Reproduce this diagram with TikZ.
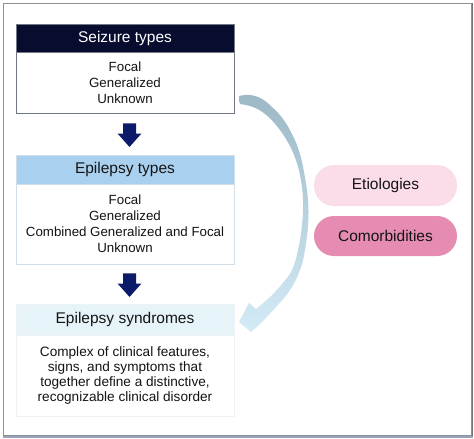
\documentclass[tikz,border=0pt]{standalone}
\usepackage{fontspec}
\setmainfont{Liberation Sans}
\usetikzlibrary{calc}
\definecolor{framegray}{HTML}{8C9098}
\definecolor{frameshadow}{HTML}{9AA4B8}
\definecolor{szhead}{HTML}{080D30}
\definecolor{szborder}{HTML}{707884}
\definecolor{ephead}{HTML}{A9D0EE}
\definecolor{epborder}{HTML}{D2DEE8}
\definecolor{syhead}{HTML}{E6F3F8}
\definecolor{syborder}{HTML}{EEF3F6}
\definecolor{etiol}{HTML}{FBDDEA}
\definecolor{comorb}{HTML}{E68BB2}
\definecolor{navyarrow}{HTML}{0B1B6A}
\definecolor{txt}{HTML}{141414}
\definecolor{cTop}{HTML}{9DB9C6}
\definecolor{cMid}{HTML}{C6DDE7}
\definecolor{cBot}{HTML}{D3EBF6}
\begin{document}
\begin{tikzpicture}[x=1pt,y=-1pt,
  hdr/.style={minimum width=218pt, inner sep=0pt, font=\fontsize{15.5}{18}\selectfont, text=txt},
  bodybox/.style={minimum width=218pt, inner sep=0pt, align=center, fill=white, text=txt, font=\fontsize{13.3}{16}\selectfont},
  pill/.style={minimum width=143pt, inner sep=0pt, rounded corners=20pt, text=txt, font=\fontsize{15.5}{18}\selectfont},
  blockarrow/.style={fill=navyarrow}
]
\useasboundingbox (0,0) rectangle (474,439);
% outer frame
\draw[frameshadow, line width=2pt] (3,436.5) -- (472.5,436.5);
\draw[framegray!80!black, line width=1pt] (472,3) -- (472,436);
\draw[framegray, line width=0.9pt, fill=white] (3,3) rectangle (471.5,435.5);

% curved arrow (drawn first, behind the boxes)
\shade[top color=cTop, middle color=cMid, bottom color=cBot]
  (239,96) -- plot[smooth, tension=0.7] coordinates {(239,96) (250,95) (262,99) (273,108) (283,119) (292,134) (299,151) (304,172) (308,200) (308,225) (305,250) (300,270) (290,290) (276,307) (259,325)}
  -- (251,332) -- (239,322) -- (249,303)
  -- plot[smooth, tension=0.7] coordinates {(256,309) (270,297) (282,284) (292,270) (298,250) (302,225) (303,200) (300,175) (294,155) (286,139) (276,125) (265,114) (253,107) (240,104)}
  -- cycle;

% Seizure types
\node[hdr, minimum height=28pt, fill=szhead, draw=szborder, text=white, line width=0.8pt] (sz) at (125,38) {Seizure types};
\node[bodybox, minimum height=61pt, draw=szborder, line width=0.8pt] (szb) at (125,82.5) {Focal\\Generalized\\Unknown};

% Epilepsy types
\node[hdr, minimum height=29pt, fill=ephead, draw=epborder, line width=0.8pt] (ep) at (125,169.5) {Epilepsy types};
\node[bodybox, minimum height=80pt, draw=epborder, line width=0.8pt] (epb) at (125,224) {Focal\\Generalized\\Combined Generalized and Focal\\Unknown};

% Epilepsy syndromes
\node[hdr, minimum height=31pt, fill=syhead, draw=syborder, line width=0.8pt] (sy) at (125,319.5) {Epilepsy syndromes};
\node[bodybox, minimum height=81pt, draw=syborder, line width=0.8pt, font=\fontsize{13.6}{15}\selectfont] (syb) at (125,375.5) {Complex of clinical features,\\signs, and symptoms that\\together define a distinctive,\\recognizable clinical disorder};

% pills
\node[pill, minimum height=41pt, fill=etiol] (eti) at (385.5,185.5) {Etiologies};
\node[pill, minimum height=40pt, fill=comorb] (com) at (385.5,236) {Comorbidities};

% block arrows
\coordinate (a1) at ($(szb.south)+(4.5,10)$);
\coordinate (a2) at ($(epb.south)+(4.5,9)$);
\foreach \a in {a1,a2}{
  \fill[blockarrow] (\a) ++(-6.5,0) -- ++(13,0) -- ++(0,10.3) -- ++(5.3,0) -- ++(-11.8,13.3) -- ++(-11.8,-13.3) -- ++(5.3,0) -- cycle;
}
\end{tikzpicture}
\end{document}
